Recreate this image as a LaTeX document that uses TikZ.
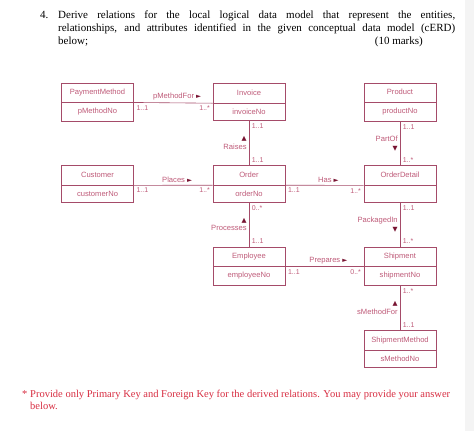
\documentclass[tikz,border=0pt]{standalone}
\usepackage{fontspec}
\setmainfont{Liberation Serif}
\setsansfont{Liberation Sans}
\newfontfamily\tipfont{DejaVu Sans}
\usetikzlibrary{shapes.multipart}
\definecolor{boxline}{RGB}{165,75,105}
\definecolor{erdtext}{RGB}{190,90,120}
\definecolor{tipcol}{RGB}{120,20,50}
\definecolor{notered}{RGB}{215,45,65}
\newcommand{\RightTip}{{\tipfont\fontsize{6.5}{6.5}\selectfont\textcolor{tipcol}{►}}}
\newcommand{\UpTip}{{\tipfont\fontsize{6.5}{6.5}\selectfont\textcolor{tipcol}{▲}}}
\newcommand{\DownTip}{{\tipfont\fontsize{6.5}{6.5}\selectfont\textcolor{tipcol}{▼}}}

\begin{document}
\begin{tikzpicture}[x=1pt, y=-1pt,
		erd/.style={font=\sffamily\fontsize{7.6}{8.6}\selectfont, text=erdtext},
		entity/.style={erd, draw=boxline, line width=0.6pt, rectangle split, rectangle split parts=2,
			rectangle split ignore empty parts=false, minimum width=72pt,
			text height=6pt, text depth=2pt, inner ysep=5.5pt},
		mult/.style={erd, font=\sffamily\fontsize{7}{8}\selectfont, inner sep=2.5pt},
		relname/.style={erd, inner sep=2pt, align=right},
		link/.style={draw=boxline, line width=0.6pt}
	]

	\useasboundingbox (0,0) rectangle (474,431);
	\fill[gray!9] (465,0) rectangle (474,431);

	% question text
	\node[anchor=north west, inner sep=0pt, font=\fontsize{11}{13}\selectfont] (qnum) at (40,11) {4.};
	\node[anchor=north west, inner sep=0pt, text width=397pt, align=justify, font=\fontsize{11}{13}\selectfont] (qtext) at (58,11)
		{Derive relations for the local logical data model that represent the entities,\linebreak
		relationships, and attributes identified in the given conceptual data model (cERD)\linebreak
		below;};
	\node[anchor=north east, inner sep=0pt, font=\fontsize{11}{13}\selectfont] (marks) at (423,37) {(10 marks)};

	% entities
	\node[entity] (paym) at (97.5,102) {PaymentMethod \nodepart{two} pMethodNo};
	\node[entity] (invc) at (249,102) {Invoice \nodepart{two} invoiceNo};
	\node[entity] (prod) at (400,102) {Product \nodepart{two} productNo};
	\node[entity] (cust) at (97.5,184) {Customer \nodepart{two} customerNo};
	\node[entity] (ordr) at (249,184) {Order \nodepart{two} orderNo};
	\node[entity] (odet) at (400,184) {OrderDetail \nodepart{two} \phantom{X}};
	\node[entity] (empl) at (249,266) {Employee \nodepart{two} employeeNo};
	\node[entity] (ship) at (400,266) {Shipment \nodepart{two} shipmentNo};
	\node[entity] (smth) at (400,349) {ShipmentMethod \nodepart{two} sMethodNo};

	% horizontal relationships
	\draw[link] (paym.text split east) -- (invc.text split west)
		node[mult, pos=0, below right] {1..1}
		node[mult, pos=1, below left] {1..*}
		node[relname, pos=0.55, above] {pMethodFor \RightTip};
	\draw[link] (cust.text split east) -- (ordr.text split west)
		node[mult, pos=0, below right] {1..1}
		node[mult, pos=1, below left] {1..*}
		node[relname, pos=0.55, above] {Places \RightTip};
	\draw[link] (ordr.text split east) -- (odet.text split west)
		node[mult, pos=0, below right] {1..1}
		node[mult, pos=1, below left] {1..*}
		node[relname, pos=0.55, above] {Has \RightTip};
	\draw[link] (empl.text split east) -- (ship.text split west)
		node[mult, pos=0, below right] {1..1}
		node[mult, pos=1, below left] {0..*}
		node[relname, pos=0.55, above] {Prepares \RightTip};

	% vertical relationships
	\draw[link] (invc.south) -- (ordr.north)
		node[mult, pos=0, below right] {1..1}
		node[mult, pos=1, above right] {1..1}
		node[relname, midway, left] {\UpTip\\Raises};
	\draw[link] (prod.south) -- (odet.north)
		node[mult, pos=0, below right] {1..1}
		node[mult, pos=1, above right] {1..*}
		node[relname, midway, left] {PartOf\\\DownTip};
	\draw[link] (ordr.south) -- (empl.north)
		node[mult, pos=0, below right] {0..*}
		node[mult, pos=1, above right] {1..1}
		node[relname, midway, left] {\UpTip\\Processes};
	\draw[link] (odet.south) -- (ship.north)
		node[mult, pos=0, below right] {1..1}
		node[mult, pos=1, above right] {1..*}
		node[relname, midway, left] {PackagedIn\\\DownTip};
	\draw[link] (ship.south) -- (smth.north)
		node[mult, pos=0, below right] {1..*}
		node[mult, pos=1, above right] {1..1}
		node[relname, midway, left] {\UpTip\\sMethodFor};

	% note
	\node[anchor=north west, inner sep=0pt, text=notered, font=\fontsize{10.5}{12}\selectfont] (star) at (22,390) {*};
	\node[anchor=north west, inner sep=0pt, text=notered, text width=420pt, align=justify, font=\fontsize{10.5}{12}\selectfont] (note) at (30,390)
		{Provide only Primary Key and Foreign Key for the derived relations. You may provide your answer\linebreak below.};
\end{tikzpicture}
\end{document}
